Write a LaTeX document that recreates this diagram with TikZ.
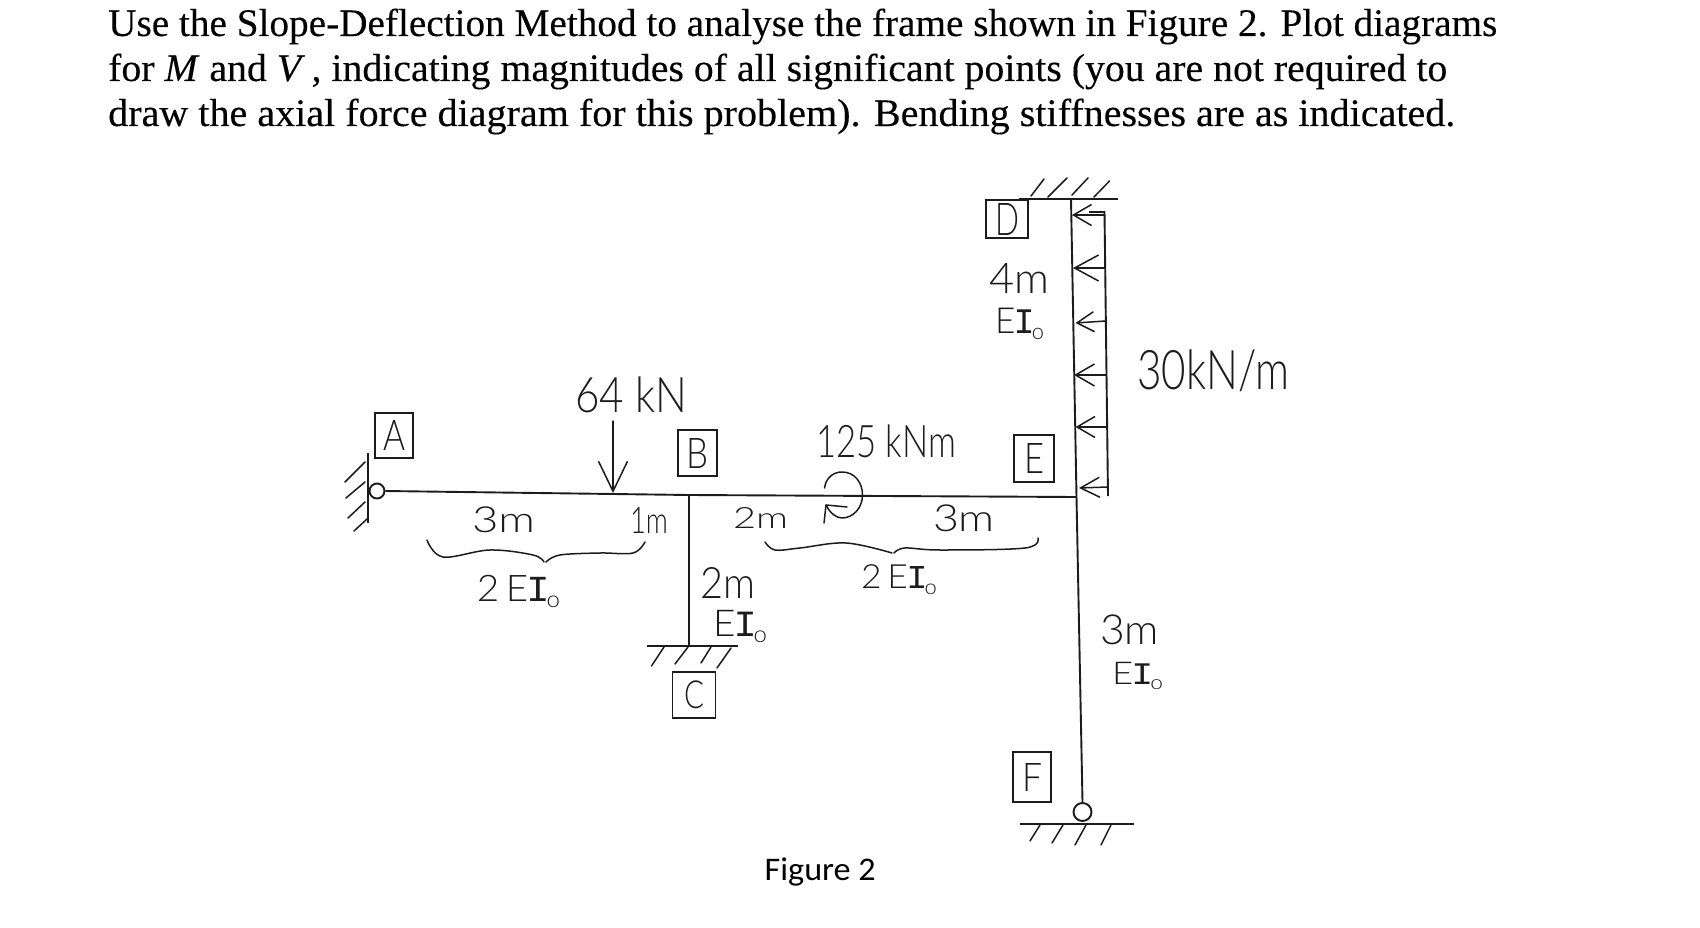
\documentclass[tikz,border=0pt]{standalone}
\usepackage{graphicx}
\usepackage{fontspec}
\setmainfont[FakeBold=0.2]{Liberation Serif}
\newfontfamily\handfont{Lato Light}
\newfontfamily\capfont{Carlito}
\newfontfamily\slabfont{Liberation Mono}
\usetikzlibrary{arrows.meta}
\definecolor{ink}{HTML}{1C1C1C}
\newcommand{\fitbox}[3]{\resizebox*{#1pt}{#2pt}{\handfont #3}}
\newcommand{\EIsub}{E\kern-.05em{\slabfont I}\kern-.08em\raisebox{-.18em}{\scalebox{.62}{o}}}
\newcommand{\headline}[2]{\resizebox{#1pt}{\height}{\fontsize{39}{39}\selectfont #2}}
\tikzset{
  x=1pt,y=-1pt,
  member/.style={draw=ink,line width=1.9pt},
  thin pen/.style={draw=ink,line width=1.5pt,line cap=round,line join=round},
  hand/.style={inner sep=0pt,outer sep=0pt,text=ink},
  letterbox/.style={draw=ink,line width=1.9pt,inner sep=0pt,text=ink},
  title line/.style={anchor=base west,inner sep=0pt,text=black},
  pin/.style={circle,draw=ink,line width=1.9pt,fill=white,inner sep=0pt},
  loadarrow/.style n args={2}{thin pen,-{Straight Barb[length=#1pt,width=#2pt,line width=1.5pt]}},
}
\begin{document}
\begin{tikzpicture}
\useasboundingbox[fill=white] (0,0) rectangle (1700,928);

% heading
\node[title line] (l1) at (108,36) {\headline{1389}{Use the Slope-Deflection Method to analyse the frame shown in Figure 2. Plot diagrams}};
\node[title line] (l2) at (108,81) {\headline{1339}{for \textit{M} and \textit{V}\,, indicating magnitudes of all significant points (you are not required to}};
\node[title line] (l3) at (108,126) {\headline{1347}{draw the axial force diagram for this problem). Bending stiffnesses are as indicated.}};
\node[title line] (fig) at (764.5,880) {\resizebox{111pt}{\height}{\capfont\fontsize{33}{33}\selectfont Figure 2}};

% joints
\coordinate (jB) at (689,495);
\coordinate (jE) at (1076.5,497);
\coordinate (jD) at (1071,199);
\coordinate (jC) at (689,646);
\node[pin,minimum size=15pt] (pinA) at (377,491) {};
\node[pin,minimum size=18pt] (pinF) at (1082.5,812) {};

% members
\draw[member] (pinA.east) -- (jB) -- (jE);
\draw[member] (jB) -- (jC);
\draw[member] (jD) -- (jE) -- (pinF.north);

% support A
\coordinate (wa1) at (368,453); \coordinate (wa2) at (368,523);
\draw[member] (wa1) -- (wa2);
\draw[thin pen] (345,482) -- (365,462) (346,498) -- (365,482) (348,518) -- (365,502) (354,531) -- (367,519);

% support C
\draw[member] (647,646) -- (738,646);
\draw[thin pen] (651.5,666) -- (664,647) (675,664) -- (688,647) (701,663) -- (711,647) (717,668) -- (731,648);

% support D
\draw[member] (1019,199) -- (1117.5,199);
\draw[thin pen] (1031,196) -- (1044,179) (1048,197) -- (1067,178) (1072,195) -- (1088,178) (1094,197) -- (1109.5,181);

% support F
\draw[member] (1020,824) -- (1134,824);
\draw[thin pen] (1030,841) -- (1040,825) (1052,843) -- (1063,825) (1075,845) -- (1086,825) (1101,845) -- (1111,825);

% point load
\coordinate (p1) at (613,421); \coordinate (p2) at (613,493);
\draw[loadarrow={30}{29}] (p1) -- (p2);

% distributed load
\coordinate (q0) at (1089,212); \coordinate (q1) at (1104.5,212); \coordinate (q7) at (1108,496);
\draw[member] (q0) -- (q1) -- (q7);
\coordinate (s1) at (1104.5,215); \coordinate (t1) at (1072,215);
\coordinate (s2) at (1105,268);   \coordinate (t2) at (1073,268);
\coordinate (s3) at (1105.5,321); \coordinate (t3) at (1075.5,323);
\coordinate (s4) at (1106,375);   \coordinate (t4) at (1074,375);
\coordinate (s5) at (1107,427);   \coordinate (t5) at (1075.5,427);
\coordinate (s6) at (1107.5,487); \coordinate (t6) at (1079,488);
\draw[loadarrow={18}{21}] (s1) -- (t1);
\draw[loadarrow={24}{26}] (s2) -- (t2);
\draw[loadarrow={17}{20}] (s3) -- (t3);
\draw[loadarrow={19}{22}] (s4) -- (t4);
\draw[loadarrow={18}{21}] (s5) -- (t5);
\draw[loadarrow={19}{20}] (s6) -- (t6);

% applied moment
\coordinate (mtip) at (826,505);
\draw[thin pen] (824.5,488) .. controls (826,477) and (834,472) .. (842,472)
  .. controls (855,472) and (862.5,483) .. (862.5,495)
  .. controls (862.5,508) and (853,518) .. (842,518)
  .. controls (836,518) and (830,513) .. (mtip);
\draw[thin pen] (824,523) -- (mtip) -- (847,507);

% braces
\draw[thin pen] plot[smooth,tension=.6] coordinates {(427,540) (443,557) (490,550) (533,555) (544,562)};
\draw[thin pen] plot[smooth,tension=.6] coordinates {(546,562) (560,555) (600,553) (633,553) (645,542)};
\draw[thin pen] plot[smooth,tension=.6] coordinates {(765,542) (775,550) (800,548) (846,543) (892,553)};
\draw[thin pen] plot[smooth,tension=.6] coordinates {(894,553) (905,548) (940,550) (1025,548) (1038,538)};

% letter boxes
\node[letterbox,minimum width=38pt,minimum height=45pt] (A) at (394,435.5) {\fitbox{22}{30}{A}};
\node[letterbox,minimum width=39pt,minimum height=46pt] (B) at (697.5,453) {\fitbox{22}{30}{B}};
\node[letterbox,minimum width=43pt,minimum height=46pt] (C) at (694,695) {\fitbox{20}{28}{C}};
\node[letterbox,minimum width=42pt,minimum height=38pt] (D) at (1007,219) {\fitbox{24}{32}{D}};
\node[letterbox,minimum width=40pt,minimum height=47pt] (E) at (1034,458.5) {\fitbox{20}{30}{E}};
\node[letterbox,minimum width=38pt,minimum height=50pt] (F) at (1032,777) {\fitbox{20}{28}{F}};

% labels
\node[hand] (n64) at (631,395) {\fitbox{112}{36}{64 kN}};
\node[hand] (m125) at (886,441.5) {\fitbox{140}{33}{125 kNm}};
\node[hand] (q30) at (1213.5,371) {\fitbox{152}{42}{30kN/m}};
\node[hand] (l3m) at (503.5,520) {\fitbox{63}{26}{3m}};
\node[hand] (l1m) at (649,520) {\fitbox{38}{26}{1m}};
\node[hand] (l2m) at (760.5,517.5) {\fitbox{55}{21}{2m}};
\node[hand] (r3m) at (964,518.5) {\fitbox{62}{27}{3m}};
\node[hand] (v2m) at (727.5,582.5) {\fitbox{55}{31}{2m}};
\node[hand] (v4m) at (1019,278) {\fitbox{60}{30}{4m}};
\node[hand] (v3m) at (1129.5,630) {\fitbox{59}{30}{3m}};
\node[hand] (e1) at (518.5,591.5) {\fitbox{83}{33}{2\,\EIsub}};
\node[hand] (e2) at (899,580) {\fitbox{76}{30}{2\,\EIsub}};
\node[hand] (e3) at (740,626.5) {\fitbox{54}{33}{\EIsub}};
\node[hand] (e4) at (1019.5,324) {\fitbox{49}{32}{\EIsub}};
\node[hand] (e5) at (1137.5,676) {\fitbox{51}{28}{\EIsub}};
\end{tikzpicture}
\end{document}
